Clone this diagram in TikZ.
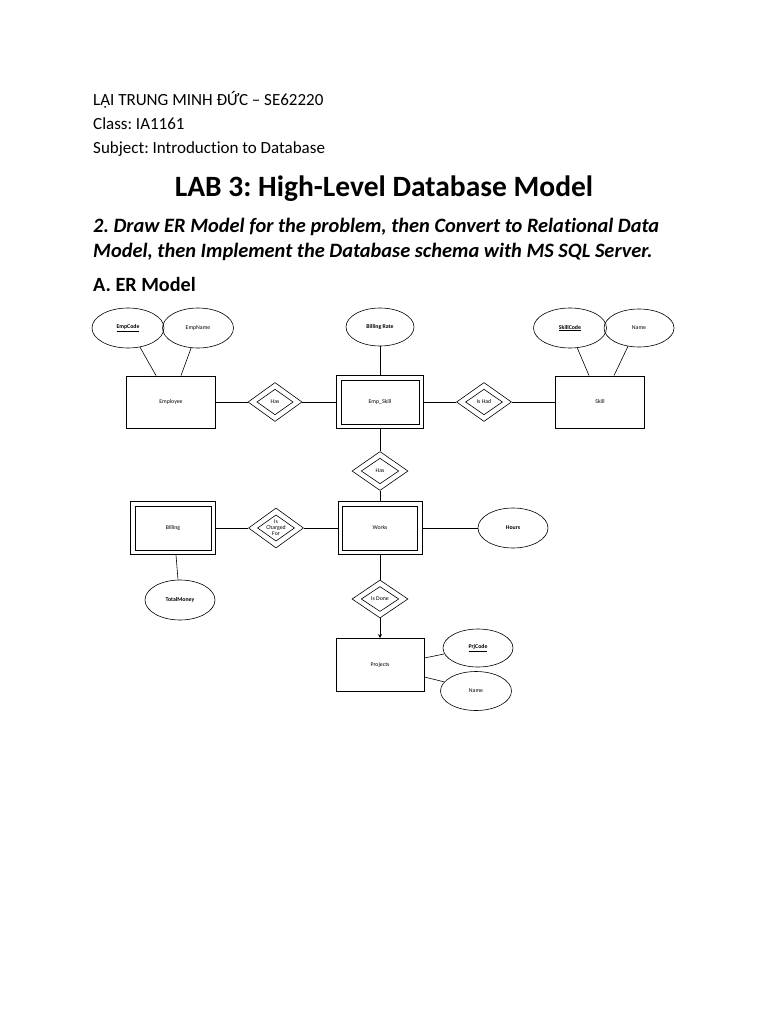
\documentclass[tikz,border=0pt]{standalone}
\usepackage{fontspec}
\setmainfont{Carlito}[Ligatures=NoCommon]
\usetikzlibrary{shapes.geometric,calc,arrows.meta}
\frenchspacing
\begin{document}
\begin{tikzpicture}[x=1pt,y=-1pt,
  every node/.style={inner sep=0pt},
  dg/.style={font=\fontsize{5.8}{6.4}\selectfont},
  ln/.style={line width=0.9pt},
  ent/.style={dg, draw, ln, rectangle, minimum width=89, minimum height=52},
  attr/.style={dg, draw, line width=0.6pt, ellipse, minimum width=72, minimum height=40},
  rel/.style={dg, draw, line width=0.6pt, diamond, minimum width=54, minimum height=39, align=center},
  hd/.style={anchor=base west, font=\fontsize{17}{20}\selectfont},
  hb/.style={anchor=base west, font=\fontsize{20.4}{24}\selectfont\bfseries\itshape}
]
\useasboundingbox (0,0) rectangle (768,1024);
\fill[white] (0,0) rectangle (768,1024);

% header
\node[hd] (l1) at (93,106) {LẠI TRUNG MINH ĐỨC – SE62220};
\node[hd] (l2) at (93,130) {Class: IA1161};
\node[hd] (l3) at (93,154) {Subject: Introduction to Database};
\node[anchor=base, font=\fontsize{29.5}{34}\selectfont\bfseries] (title) at (384,197) {LAB 3: High-Level Database Model};
\node[hb] (q1) at (93,233) {2. Draw ER Model for the problem, then Convert to Relational Data};
\node[hb] (q2) at (93,257) {Model, then Implement the Database schema with MS SQL Server.};
\node[anchor=base west, font=\fontsize{20.2}{24}\selectfont\bfseries] (sec) at (93,291) {A. ER Model};

% entities
\node[ent] (emp) at (171,402) {Employee};
\node[ent, minimum width=87, minimum height=53] (empskill) at (380,402) {Emp\_Skill};
\node[ent] (skill) at (600,402) {Skill};
\node[ent, minimum width=84, minimum height=53] (works) at (380,528) {Works};
\node[ent, minimum width=85, minimum height=53] (billing) at (173,528) {Billing};
\node[ent, minimum width=88, minimum height=53] (proj) at (380,665) {Projects};
\foreach \n in {empskill,works,billing}{
  \draw[line width=0.6pt] ([shift={(5,5)}]\n.north west) rectangle ([shift={(-5,-5)}]\n.south east);
}

% attributes
\node[attr] (empcode) at (128,328) {\underline{\textbf{EmpCode}}};
\node[attr, minimum width=71] (empname) at (198,328) {EmpName};
\node[attr, minimum width=68, minimum height=38] (brate) at (380,327) {\textbf{Billing Rate}};
\node[attr, minimum width=73] (skillcode) at (570,328) {\underline{\textbf{SkillCode}}};
\node[attr, minimum width=70, minimum height=38] (sname) at (639,328) {Name};
\node[attr, minimum width=70] (hours) at (513,528) {\textbf{Hours}};
\node[attr, minimum width=70] (tmoney) at (180,600) {\textbf{TotalMoney}};
\node[attr, minimum width=70, minimum height=38] (prjcode) at (478,648) {\underline{\textbf{PrjCode}}};
\node[attr, minimum width=71, minimum height=39] (pname) at (476,691) {Name};

% relationships
\node[rel] (has1) at (275,402) {Has};
\node[rel, minimum width=55] (ishad) at (484,402) {Is Had};
\node[rel, minimum width=56] (has2) at (380,471) {Has};
\node[rel, minimum width=55, minimum height=40, font=\fontsize{5.8}{6}\selectfont] (charged) at (276,528) {Is\\Charged\\For};
\node[rel, minimum width=56, minimum height=38] (isdone) at (380,599) {Is Done};
\foreach \n in {has1,ishad,has2,charged,isdone}{
  \draw[line width=0.6pt] ($(\n.center)!0.66!(\n.west)$) -- ($(\n.center)!0.64!(\n.north)$)
    -- ($(\n.center)!0.66!(\n.east)$) -- ($(\n.center)!0.64!(\n.south)$) -- cycle;
}

% connectors
\draw[ln] (emp.east) -- (has1.west);
\draw[ln] (has1.east) -- (empskill.west);
\draw[ln] (empskill.east) -- (ishad.west);
\draw[ln] (ishad.east) -- (skill.west);
\draw[ln] (brate.south) -- (empskill.north);
\draw[ln] (empskill.south) -- (has2.north);
\draw[ln] (has2.south) -- (works.north);
\draw[ln] (billing.east) -- (charged.west);
\draw[ln] (charged.east) -- (works.west);
\draw[ln] (works.east) -- (hours.west);
\draw[ln] (works.south) -- (isdone.north);
\draw[ln, -{Stealth[length=4pt,width=4pt]}] (isdone.south) -- (proj.north);
\draw[line width=0.6pt] ([xshift=3]billing.south) -- ([xshift=-2]tmoney.north);
\draw[line width=0.6pt] (empcode.-58) -- ([xshift=-15]emp.north);
\draw[line width=0.6pt] (empname.-109) -- ([xshift=10]emp.north);
\draw[line width=0.6pt] (skillcode.-70) -- ([xshift=-11]skill.north);
\draw[line width=0.6pt] (sname.-121) -- ([xshift=14]skill.north);
\draw[line width=0.6pt] ([yshift=7]proj.east) -- (prjcode.-170);
\draw[line width=0.6pt] ([yshift=-12]proj.east) -- (pname.164);
\end{tikzpicture}
\end{document}
